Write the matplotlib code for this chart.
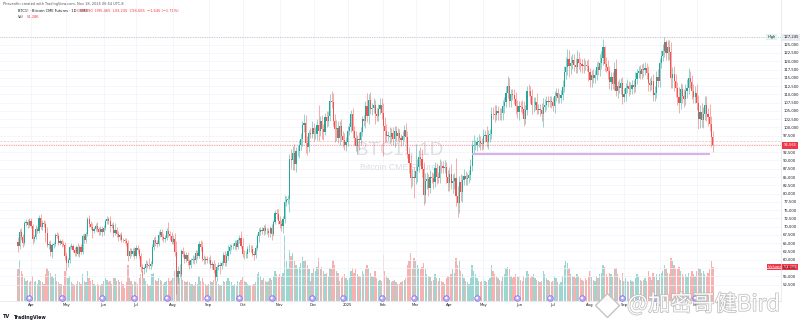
import numpy as np
import pandas as pd
import matplotlib
matplotlib.use("Agg")
import matplotlib.pyplot as plt
import matplotlib.patheffects as pe
from matplotlib.transforms import blended_transform_factory as blend

# ---------------- data ----------------
start_date = "2024-03-19"
end_date = "2025-11-17"
closed_days = ["2024-03-29", "2024-12-25", "2025-01-01", "2025-04-18"]
first_open = 655  # in units of $100

# daily closes, units of $100 (one line per month)
close_h = [
    642, 685, 668, 650, 712, 713, 705, 717,
    703, 663, 668, 692, 687, 725, 700, 712, 708, 680, 645, 648, 622, 644, 648, 676, 672, 652, 656, 648, 646, 612,
    590, 598, 637, 640, 630, 620, 638, 616, 637, 623, 671, 660, 678, 722, 709, 700, 688, 694, 703, 692, 685, 693, 684,
    697, 716, 722, 718, 703, 705, 682, 691, 677, 669, 674, 661, 659, 658, 650, 611, 627, 618, 625, 612,
    634, 628, 612, 578, 572, 574, 587, 585, 581, 587, 637, 660, 650, 648, 676, 685, 668, 663, 667, 688, 677, 671, 655,
    662, 622, 547, 567, 558, 625, 617, 602, 614, 595, 583, 598, 603, 598, 620, 612, 649, 637, 603, 598, 602, 599,
    599, 583, 588, 570, 547, 578, 584, 582, 589, 614, 590, 611, 626, 637, 640, 641, 651, 639, 660, 666, 641,
    618, 616, 617, 632, 633, 632, 617, 614, 636, 673, 683, 689, 687, 697, 687, 687, 680, 695, 679, 713, 742, 738, 717,
    709, 702, 722, 775, 782, 785, 905, 900, 924, 890, 928, 928, 946, 965, 1006, 1012, 954, 942, 982, 979, 998,
    980, 981, 1008, 990, 1018, 994, 987, 1032, 1020, 1035, 1080, 1078, 1020, 995, 998, 968, 1005, 975, 962, 946, 955,
    988, 1000, 1040, 988, 968, 945, 966, 962, 985, 1025, 1018, 1065, 1035, 1082, 1057, 1060, 1068, 1040, 1033, 1057, 1068, 1045,
    1005, 990, 975, 975, 972, 982, 966, 988, 975, 984, 967, 963, 975, 992, 970, 921, 892, 847, 850, 848,
    869, 880, 912, 905, 875, 795, 838, 845, 818, 850, 848, 835, 876, 850, 848, 883, 882, 877, 880, 851, 833,
    860, 833, 839, 846, 792, 770, 834, 804, 842, 853, 845, 848, 857, 884, 943, 946, 948, 955, 959, 952, 951,
    975, 978, 956, 977, 979, 1041, 1039, 1036, 1049, 1043, 1045, 1043, 1064, 1076, 1105, 1124, 1081, 1102, 1097, 1086, 1064, 1047,
    1064, 1062, 1055, 1024, 1052, 1110, 1109, 1095, 1067, 1068, 1078, 1054, 1056, 1053, 1040, 1063, 1067, 1080, 1077, 1079, 1078,
    1065, 1096, 1104, 1088, 1090, 1097, 1122, 1167, 1184, 1208, 1186, 1196, 1203, 1189, 1183, 1208, 1196, 1192, 1185, 1190, 1188, 1187, 1166,
    1142, 1158, 1150, 1158, 1182, 1174, 1196, 1210, 1242, 1192, 1183, 1171, 1137, 1151, 1132, 1178, 1110, 1126, 1120, 1133, 1092,
    1100, 1120, 1125, 1115, 1116, 1129, 1123, 1147, 1163, 1170, 1161, 1176, 1173, 1179, 1165, 1135, 1129, 1141, 1099, 1105, 1151, 1141,
    1195, 1215, 1232, 1258, 1225, 1243, 1228, 1150, 1162, 1140, 1118, 1092, 1075, 1115, 1095, 1087, 1110, 1120, 1150, 1138, 1110, 1093, 1105,
    1074, 1024, 1048, 1022, 1042, 1069, 1040, 1030, 1010, 970, 946,
]

# upper wick length above the body, units of $100
wick_up_h = [
    15, 8, 12, 10, 6, 9, 10, 8,
    10, 6, 8, 12, 8, 10, 14, 9, 8, 10, 20, 8, 12, 6, 7, 5, 9, 10, 6, 7, 9, 8,
    10, 6, 8, 12, 9, 8, 7, 12, 8, 10, 6, 10, 7, 6, 12, 9, 10, 6, 8, 10, 7, 8, 9,
    8, 7, 10, 8, 15, 6, 8, 20, 7, 9, 8, 10, 6, 7, 8, 10, 8, 9, 10, 12,
    12, 10, 8, 9, 10, 8, 12, 9, 20, 8, 10, 10, 12, 9, 10, 8, 9, 10, 8, 7, 25, 10, 12,
    12, 20, 35, 15, 20, 8, 12, 10, 9, 10, 8, 7, 10, 8, 9, 8, 8, 12, 20, 10, 9, 8,
    10, 15, 9, 12, 20, 6, 10, 9, 8, 10, 12, 9, 20, 12, 8, 9, 8, 9, 7, 10, 20,
    25, 12, 10, 8, 14, 10, 12, 8, 7, 6, 14, 10, 9, 8, 10, 8, 9, 8, 12, 6, 8, 10, 15,
    15, 12, 10, 20, 10, 12, 15, 30, 20, 25, 12, 20, 15, 18, 12, 30, 25, 20, 10, 15, 20,
    15, 20, 18, 60, 15, 20, 15, 12, 18, 15, 20, 30, 25, 20, 25, 20, 15, 20, 15, 20, 15,
    15, 12, 12, 20, 15, 20, 12, 20, 15, 10, 12, 15, 40, 20, 25, 15, 20, 15, 20, 15, 20, 20,
    30, 25, 20, 15, 25, 15, 20, 15, 15, 15, 12, 12, 15, 15, 20, 20, 20, 25, 25, 30,
    80, 25, 20, 30, 30, 20, 25, 20, 15, 20, 15, 15, 20, 15, 15, 20, 15, 15, 20, 15, 20,
    20, 30, 20, 15, 60, 30, 20, 25, 15, 20, 15, 15, 15, 20, 20, 30, 15, 15, 20, 15, 15,
    20, 15, 25, 15, 15, 20, 20, 30, 20, 15, 15, 15, 20, 15, 20, 30, 25, 15, 15, 20, 20, 20,
    15, 15, 20, 25, 15, 15, 20, 15, 20, 25, 15, 25, 15, 15, 20, 25, 20, 15, 15, 15, 15,
    15, 15, 15, 15, 15, 15, 20, 20, 30, 30, 25, 20, 20, 20, 20, 25, 20, 15, 15, 20, 15, 15, 20,
    15, 15, 20, 15, 15, 20, 25, 20, 25, 5, 20, 20, 15, 15, 15, 20, 30, 15, 20, 15, 20,
    20, 15, 20, 15, 20, 15, 15, 20, 15, 15, 20, 15, 20, 20, 15, 20, 15, 15, 20, 20, 20, 25,
    15, 20, 20, 14.5, 5, 20, 20, 30, 20, 25, 20, 20, 30, 20, 15, 20, 20, 25, 30, 20, 20, 20, 20,
    25, 25, 20, 25, 20, 25, 25, 20, 40, 25, 20,
]

# lower wick length below the body, units of $100
wick_dn_h = [
    20, 10, 8, 12, 5, 10, 8, 7,
    6, 14, 10, 6, 7, 6, 8, 10, 9, 25, 8, 12, 12, 18, 10, 6, 7, 6, 8, 10, 6, 12,
    20, 12, 8, 6, 7, 9, 10, 6, 8, 7, 6, 9, 8, 7, 10, 8, 22, 8, 6, 7, 9, 10, 12,
    9, 6, 7, 10, 20, 7, 12, 8, 9, 12, 10, 8, 6, 7, 10, 14, 6, 8, 7, 9,
    8, 9, 10, 15, 25, 16, 10, 9, 8, 10, 6, 8, 9, 10, 7, 8, 9, 10, 9, 7, 8, 10, 8,
    6, 10, 50, 18, 10, 8, 9, 12, 8, 10, 12, 9, 8, 10, 7, 9, 7, 10, 6, 12, 10, 8,
    8, 9, 12, 10, 8, 12, 8, 25, 9, 6, 10, 8, 12, 8, 9, 7, 10, 10, 8, 9, 6,
    10, 15, 10, 12, 8, 9, 6, 15, 9, 7, 20, 8, 9, 12, 10, 10, 12, 10, 18, 7, 6, 15, 8,
    14, 15, 20, 10, 12, 15, 40, 25, 30, 20, 25, 15, 20, 15, 22, 20, 30, 25, 15, 10, 12,
    20, 15, 20, 30, 15, 30, 25, 10, 20, 15, 15, 20, 15, 40, 35, 15, 20, 15, 20, 15, 18,
    12, 10, 15, 20, 20, 15, 25, 30, 15, 12, 15, 20, 20, 25, 15, 20, 15, 30, 15, 15, 15, 20,
    90, 35, 20, 15, 20, 15, 20, 25, 15, 15, 12, 20, 15, 12, 15, 15, 30, 30, 25, 60,
    20, 35, 15, 20, 25, 30, 25, 25, 25, 15, 15, 20, 15, 20, 15, 15, 20, 15, 15, 20, 25,
    25, 20, 30, 25, 30, 40, 30, 25, 30, 15, 20, 20, 15, 15, 15, 20, 15, 20, 15, 20, 20,
    15, 20, 15, 20, 20, 15, 15, 20, 15, 20, 20, 20, 20, 20, 15, 15, 20, 20, 15, 15, 25, 20,
    25, 15, 15, 20, 15, 15, 15, 20, 25, 20, 15, 15, 15, 20, 20, 40, 15, 15, 15, 15, 20,
    15, 20, 15, 15, 15, 15, 15, 15, 20, 25, 35, 25, 20, 20, 20, 20, 20, 25, 20, 20, 15, 15, 25,
    20, 20, 15, 15, 15, 15, 20, 20, 20, 20, 15, 25, 20, 25, 15, 20, 15, 20, 15, 20, 20,
    15, 20, 15, 20, 15, 15, 20, 15, 15, 15, 15, 15, 20, 15, 20, 25, 20, 15, 20, 20, 15, 20,
    20, 15, 15, 20, 20, 20, 25, 30, 30, 30, 25, 25, 30, 20, 20, 25, 20, 20, 20, 20, 25, 20, 20,
    20, 30, 25, 20, 25, 20, 20, 25, 20, 30, 20,
]

# daily volume, thousands of contracts
volume_k = [
    48, 62, 45, 40, 35, 30, 32, 28,
    30, 38, 28, 30, 25, 32, 30, 28, 26, 40, 50, 45, 42, 38, 35, 40, 30, 28, 26, 25, 22, 45,
    48, 35, 38, 28, 25, 24, 26, 30, 28, 26, 40, 30, 28, 45, 35, 30, 32, 26, 22, 25, 24, 22, 25,
    30, 34, 32, 28, 30, 26, 35, 34, 30, 32, 28, 30, 26, 20, 28, 54, 35, 30, 26, 30,
    28, 26, 35, 40, 45, 35, 30, 25, 22, 24, 40, 42, 32, 30, 34, 32, 30, 26, 28, 30, 34, 30, 32,
    34, 45, 62, 40, 35, 42, 32, 30, 28, 30, 28, 26, 26, 24, 28, 26, 38, 30, 34, 28, 26, 24,
    26, 30, 28, 32, 36, 30, 26, 24, 22, 30, 28, 30, 34, 30, 28, 24, 26, 22, 30, 28, 32,
    36, 30, 28, 26, 24, 22, 24, 26, 28, 40, 44, 38, 32, 34, 30, 28, 30, 34, 32, 38, 45, 40, 36,
    40, 38, 42, 100, 60, 50, 77, 68, 72, 60, 55, 50, 52, 58, 66, 60, 62, 55, 48, 30, 42,
    50, 45, 52, 65, 48, 52, 45, 40, 42, 38, 50, 48, 62, 55, 45, 42, 30, 35, 38, 40, 35,
    32, 35, 45, 50, 42, 48, 40, 38, 36, 45, 40, 48, 55, 50, 42, 38, 36, 45, 35, 30, 32, 30,
    70, 45, 38, 34, 32, 28, 30, 32, 28, 26, 25, 28, 30, 32, 35, 55, 60, 72, 50, 65,
    60, 55, 50, 48, 52, 58, 48, 40, 38, 36, 30, 32, 40, 35, 30, 35, 30, 28, 26, 34, 38,
    36, 40, 48, 42, 65, 55, 60, 45, 40, 34, 30, 28, 26, 35, 55, 45, 40, 35, 30, 28, 30,
    34, 30, 28, 32, 35, 55, 45, 40, 38, 34, 32, 30, 36, 40, 50, 52, 48, 38, 35, 36, 40, 38,
    36, 32, 30, 38, 34, 45, 40, 35, 38, 40, 34, 32, 30, 28, 30, 45, 40, 35, 32, 30, 28,
    30, 36, 34, 28, 26, 28, 38, 55, 60, 58, 50, 40, 38, 36, 34, 40, 38, 34, 32, 30, 34, 32, 36,
    45, 36, 32, 30, 38, 34, 40, 42, 55, 52, 40, 36, 42, 40, 36, 48, 50, 40, 34, 32, 42,
    30, 34, 30, 28, 32, 30, 28, 35, 40, 38, 32, 30, 32, 34, 30, 45, 36, 32, 42, 36, 40, 32,
    40, 42, 45, 55, 48, 42, 40, 65, 60, 55, 50, 48, 52, 45, 40, 38, 40, 36, 42, 38, 45, 40, 38,
    45, 50, 48, 42, 45, 40, 38, 42, 48, 60, 51.28,
]

all_time_high = 127245
last_price_label = "94,565"
last_volume_label = "51.28K"
prev_close_line = 95900
gap_level = 92000
gap_start = "2025-04-22"
y_ticks = list(range(52500, 125001, 2500))
header_line1 = "Phavenfin created with TradingView.com, Nov 18, 2025 06:54 UTC-8"
header_line2a = "BTC1! \u00b7 Bitcoin CME Futures \u00b7 1D \u00b7 CME"
header_line2b = "O95,390  H95,465  L93,235  C94,565  \u22121,645 (\u22121.71%)"
watermark_title = "BTC1!, 1D"
watermark_sub = "Bitcoin CME Futures"
author_mark = "@\u52a0\u5bc6\u54e5\u5065Bird"

# ---------------- derived series ----------------
dates = pd.bdate_range(start_date, end_date)
dates = dates[~dates.isin(pd.to_datetime(closed_days))]
n = min(len(dates), len(close_h), len(wick_up_h), len(wick_dn_h), len(volume_k))
dates = dates[:n]
c = np.array(close_h[:n], float) * 100
o = np.r_[first_open, close_h[:n - 1]].astype(float) * 100
hi = np.maximum(o, c) + np.array(wick_up_h[:n], float) * 100
lo = np.minimum(o, c) - np.array(wick_dn_h[:n], float) * 100
vol = np.array(volume_k[:n], float)
x = np.arange(n)

UP, DN = "#26a69a", "#ef5350"
col = np.where(c >= o, UP, DN)

# ---------------- figure layout (pixel based) ----------------
W, H = 800, 325
PANE_R, PANE_B = 781, 301
fig = plt.figure(figsize=(W / 100, H / 100), dpi=100)
fig.patch.set_facecolor("white")
ax = fig.add_axes([0, 1 - PANE_B / H, PANE_R / W, PANE_B / H])
ax2 = ax.twinx()
ax.set_zorder(ax2.get_zorder() + 1)
ax.patch.set_visible(False)

px_per_bar = 1.616
x_first_px = 18
ax.set_xlim(-x_first_px / px_per_bar, (PANE_R - x_first_px) / px_per_bar)
k = 0.003308  # px per $ ; 125,000 sits at y=44.7px
ax.set_ylim(125000 - (PANE_B - 44.7) / k, 125000 + 44.7 / k)
ax2.set_ylim(0, float(last_volume_label[:-1]) * PANE_B / (PANE_B - 267))

# grid
for yt in y_ticks:
    ax.axhline(yt, color="#f0f3fa", lw=0.5, zorder=0)
month_first = pd.Series(x, index=dates).groupby([dates.year, dates.month]).min()
for xi in month_first.values[1:]:
    ax.axvline(xi, color="#f0f3fa", lw=0.5, zorder=0)

# volume
vcol = np.where(c >= o, "#26a69a", "#ef5350")
ax2.bar(x, vol, width=0.8, color=vcol, alpha=0.45, lw=0, zorder=1)
ax2.set_yticks([])
for s in ax2.spines.values():
    s.set_visible(False)

# candles
ax.vlines(x, lo, hi, colors=col, lw=0.45, alpha=0.75, zorder=3)
body_h = np.maximum(np.abs(c - o), 60)
ax.bar(x, body_h, bottom=np.minimum(o, c), width=0.72, color=col, lw=0, zorder=4)

# horizontal lines
ax.axhline(all_time_high, color="#9598a1", lw=0.5, ls=(0, (1, 1.5)), zorder=2)
ax.axhline(prev_close_line, color="#f5b5b4", lw=0.5, ls=(0, (3, 2)), zorder=2)
ax.axhline(c[-1], color="#ef5350", lw=0.5, ls=(0, (1, 1.5)), zorder=2)
gi = int(np.searchsorted(dates, pd.Timestamp(gap_start)))
ax.hlines(gap_level, gi, n - 3, color="#d7b3ea", lw=1.6, zorder=5)

# watermark
ax.text(0.512, 1 - 150 / PANE_B, watermark_title, transform=ax.transAxes, ha="center",
        va="center", fontsize=13.5, color="#dcdee4", family="Liberation Sans", zorder=1)
ax.text(0.512, 1 - 167 / PANE_B, watermark_sub, transform=ax.transAxes, ha="center",
        va="center", fontsize=6.3, color="#dcdee4", family="Liberation Sans", zorder=1)

# right price scale
ax.yaxis.tick_right()
ax.set_yticks(y_ticks)
ax.set_yticklabels([f"{v:,}" for v in y_ticks])
ax.tick_params(axis="y", length=0, labelsize=2.7, pad=1.6, labelcolor="#131722")
ax.set_xticks([])
for name, s in ax.spines.items():
    s.set_visible(name in ("bottom", "right"))
    s.set_color("#e0e3eb")
    s.set_linewidth(0.5)

tr_r = blend(ax.transAxes, ax.transData)
ax.text(1.003, c[-1], last_price_label, transform=tr_r, ha="left", va="center", fontsize=2.7,
        color="white", zorder=10, clip_on=False,
        bbox=dict(boxstyle="square,pad=0.35", fc="#f23645", ec="none"))
ax.text(1.003, all_time_high, f"{all_time_high:,}", transform=tr_r, ha="left", va="center",
        fontsize=2.7, color="#131722", zorder=10, clip_on=False,
        bbox=dict(boxstyle="square,pad=0.35", fc="#e9ebf0", ec="none"))
ax.text(0.993, all_time_high, "High", transform=tr_r, ha="right", va="center",
        fontsize=2.5, color="#131722", zorder=10, clip_on=False,
        bbox=dict(boxstyle="square,pad=0.35", fc="#dff2ef", ec="none"))
tr_v = blend(ax2.transAxes, ax2.transData)
ax2.text(768 / PANE_R, vol[-1], f"Volume  {last_volume_label}", transform=tr_v, ha="left",
         va="center", fontsize=2.6, color="white", zorder=10, clip_on=False,
         bbox=dict(boxstyle="square,pad=0.35", fc="#f23645", ec="none"))

# month labels
trx = blend(ax.transData, ax.transAxes)
for (yr, mo), xi in month_first.items():
    if xi == 0:
        continue
    lab = str(yr) if mo == 1 else pd.Timestamp(year=yr, month=mo, day=1).strftime("%b")
    ax.text(xi, -(305 - PANE_B) / PANE_B, lab, transform=trx, ha="center", va="center",
            fontsize=2.7, color="#131722", clip_on=False)

# contract expiry markers (last Friday of each month)
exp_x = []
for (yr, mo), _ in month_first.items():
    lastday = pd.Timestamp(year=yr, month=mo, day=1) + pd.offsets.MonthEnd(0)
    lf = lastday - pd.Timedelta(days=(lastday.weekday() - 4) % 7)
    if lf <= dates[-1]:
        exp_x.append(int(np.searchsorted(dates, lf, side="right")) - 1)
ax.scatter(exp_x, [(PANE_B - 298) / PANE_B] * len(exp_x), transform=trx, s=17,
           marker="o", facecolor="#b7a8f5", edgecolor="#7e6cf0", lw=0.4, zorder=6, clip_on=False)
ax.scatter(exp_x, [(PANE_B - 298) / PANE_B] * len(exp_x), transform=trx, s=3,
           marker="o", facecolor="white", edgecolor="none", zorder=7, clip_on=False)

# header
def fpos(xp, yp):
    return xp / W, 1 - yp / H

fig.text(*fpos(3, 4), header_line1, fontsize=2.5, color="#555555", va="center")
fig.text(*fpos(18, 11), header_line2a, fontsize=2.6, color="#131722", va="center")
fig.text(*fpos(77, 11), header_line2b, fontsize=2.6, color="#f23645", va="center")
fig.text(*fpos(18, 17), "Vol", fontsize=2.6, color="#131722", va="center")
fig.text(*fpos(27, 17), last_volume_label, fontsize=2.6, color="#f23645", va="center")

# footer
fig.text(*fpos(3, 317), "TV", fontsize=3.6, weight="bold", color="#131722", va="center")
fig.text(*fpos(13, 317), "TradingView", fontsize=3.4, weight="bold", color="#131722", va="center")
fig.lines.append(plt.Line2D([607 / W], [1 - 305 / H], transform=fig.transFigure, marker="D",
                            ms=12, mfc="white", mec="#bdbdbd", mew=1.0, alpha=0.9))
fig.text(*fpos(627, 304), author_mark, fontsize=16, color="white", va="center",
         family=["Noto Sans CJK SC", "DejaVu Sans"], alpha=0.95,
         path_effects=[pe.withStroke(linewidth=1.0, foreground="#b8b8b8")])

fig.savefig("out.png", dpi=100, facecolor="white")
